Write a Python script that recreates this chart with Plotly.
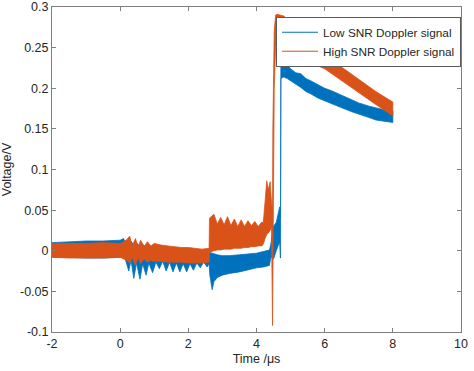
import plotly.graph_objects as go

# ---- data (envelopes of the noisy signals) ----
low_x = [-2.0, -1.5, -1.0, -0.5, 0.0, 0.1, 0.15, 0.25, 0.32, 0.40, 0.48, 0.58, 0.66, 0.76, 0.84,
         0.95, 1.05, 1.15, 1.25, 1.35, 1.45, 1.55, 1.65, 1.75, 1.85, 1.95, 2.05, 2.15, 2.25, 2.35,
         2.45, 2.55, 2.61, 2.63, 2.70, 2.75, 2.85, 3.0, 3.2, 3.5, 3.8, 4.0, 4.2, 4.38, 4.42, 4.5,
         4.58, 4.65, 4.68, 4.70, 4.705, 4.715, 4.8, 4.9, 5.0, 5.15, 5.3, 5.45, 5.6, 5.8, 6.0, 6.2,
         6.5, 6.8, 7.0, 7.3, 7.5, 7.8, 8.0]
low_top = [0.010, 0.011, 0.012, 0.012, 0.013, 0.015, 0.010, 0.008, 0.012, 0.006, 0.010, 0.005, 0.008,
           0.004, 0.006, 0.003, 0.004, 0.002, 0.003, 0.001, 0.002, 0.000, 0.001, 0.000, 0.000, -0.001,
           -0.001, -0.002, -0.002, -0.003, -0.003, -0.004, -0.004, -0.002, -0.003, -0.004, -0.005,
           -0.006, -0.006, -0.005, -0.004, -0.003, -0.001, 0.001, 0.008, 0.030, 0.035, 0.050, 0.054,
           0.040, 0.050, 0.234, 0.232, 0.229, 0.224, 0.219, 0.218, 0.212, 0.209, 0.204, 0.200, 0.197,
           0.191, 0.185, 0.182, 0.178, 0.176, 0.173, 0.172]
low_bot = [-0.008, -0.008, -0.009, -0.009, -0.008, -0.006, -0.010, -0.025, -0.012, -0.034, -0.015,
           -0.035, -0.016, -0.030, -0.015, -0.027, -0.014, -0.022, -0.013, -0.025, -0.014, -0.026,
           -0.015, -0.026, -0.016, -0.026, -0.016, -0.024, -0.015, -0.021, -0.014, -0.020, -0.016,
           -0.030, -0.048, -0.038, -0.033, -0.030, -0.028, -0.026, -0.023, -0.021, -0.020, -0.018,
           -0.008, -0.010, 0.000, 0.008, 0.010, -0.009, -0.009, 0.212, 0.214, 0.212, 0.210, 0.205,
           0.201, 0.196, 0.193, 0.188, 0.185, 0.181, 0.176, 0.171, 0.168, 0.164, 0.161, 0.159, 0.158]

high_x = [-2.0, -1.5, -1.0, -0.5, 0.0, 0.1, 0.2, 0.28, 0.35, 0.45, 0.52, 0.60, 0.70, 0.80, 0.90,
          1.0, 1.2, 1.4, 1.6, 1.8, 2.0, 2.2, 2.4, 2.61, 2.62, 2.75, 2.85, 2.95, 3.05, 3.15, 3.25,
          3.35, 3.45, 3.55, 3.65, 3.75, 3.85, 3.95, 4.05, 4.15, 4.2, 4.25, 4.30, 4.35, 4.40, 4.44,
          4.46, 4.47, 4.48, 4.52, 4.56, 4.6, 4.8, 5.0, 5.4, 5.77, 6.0, 6.5, 7.0, 7.5, 8.0]
high_top = [0.009, 0.009, 0.009, 0.010, 0.009, 0.011, 0.014, 0.018, 0.006, 0.015, 0.004, 0.013,
            0.005, 0.011, 0.006, 0.009, 0.007, 0.006, 0.005, 0.004, 0.004, 0.003, 0.002, 0.003,
            0.040, 0.045, 0.033, 0.041, 0.032, 0.042, 0.031, 0.039, 0.030, 0.038, 0.030, 0.037,
            0.031, 0.036, 0.030, 0.035, 0.035, 0.060, 0.086, 0.075, 0.085, 0.060, 0.050, 0.050,
            0.150, 0.270, 0.290, 0.291, 0.289, 0.280, 0.268, 0.247, 0.241, 0.226, 0.211, 0.196, 0.183]
high_bot = [-0.008, -0.009, -0.009, -0.009, -0.008, -0.010, -0.012, -0.015, -0.008, -0.018, -0.008,
            -0.016, -0.010, -0.014, -0.012, -0.013, -0.013, -0.014, -0.014, -0.014, -0.015, -0.015,
            -0.015, -0.014, -0.002, 0.000, 0.001, 0.001, 0.002, 0.002, 0.002, 0.003, 0.003, 0.003,
            0.004, 0.004, 0.005, 0.005, 0.006, 0.006, 0.008, 0.015, 0.020, 0.022, 0.025, 0.030,
            -0.050, -0.092, 0.030, 0.200, 0.250, 0.262, 0.266, 0.261, 0.250, 0.228, 0.224, 0.209,
            0.195, 0.180, 0.166]

series_names = ["Low SNR Doppler signal", "High SNR Doppler signal"]
x_ticks = [-2, 0, 2, 4, 6, 8, 10]
x_tick_labels = ["-2", "0", "2", "4", "6", "8", "10"]
y_ticks = [-0.1, -0.05, 0, 0.05, 0.1, 0.15, 0.2, 0.25, 0.3]
y_tick_labels = ["-0.1", "-0.05", "0", "0.05", "0.1", "0.15", "0.2", "0.25", "0.3"]

BLUE = "#0072BD"
ORANGE = "#D95319"
FONT = "Liberation Sans, Arial, sans-serif"
TXT = "#262626"
AX = "#808080"

fig = go.Figure()


def band(xs, top, bot, color):
    return go.Scatter(
        x=list(xs) + list(xs)[::-1],
        y=list(top) + list(bot)[::-1],
        mode="lines",
        fill="toself",
        fillcolor=color,
        line=dict(color=color, width=0.8),
        showlegend=False,
        hoverinfo="skip",
    )


fig.add_trace(band(low_x, low_top, low_bot, BLUE))
fig.add_trace(band(high_x, high_top, high_bot, ORANGE))

# legend entries (line samples)
for name, col in zip(series_names, [BLUE, ORANGE]):
    fig.add_trace(go.Scatter(x=[None], y=[None], mode="lines", name=name,
                             line=dict(color=col, width=1.2)))

axis_common = dict(
    showline=True, mirror="ticks", linecolor=AX, linewidth=1,
    ticks="inside", ticklen=4, tickcolor=AX,
    showgrid=False, zeroline=False,
    tickfont=dict(family=FONT, size=12.5, color=TXT),
)

fig.update_layout(
    width=474, height=371,
    margin=dict(l=52, r=8, t=6, b=39),
    paper_bgcolor="white", plot_bgcolor="white",
    font=dict(family=FONT, size=12.5, color=TXT),
    xaxis=dict(range=[-2, 10], tickvals=x_ticks, ticktext=x_tick_labels,
               title=dict(text="Time /μs", font=dict(family=FONT, size=12.5, color=TXT),
                          standoff=4),
               **axis_common),
    yaxis=dict(range=[-0.1, 0.3], tickvals=y_ticks, ticktext=y_tick_labels,
               automargin=False,
               title=dict(text="Voltage/V", font=dict(family=FONT, size=12.5, color=TXT),
                          standoff=6),
               **axis_common),
    legend=dict(x=1, y=0.97, xanchor="right", yanchor="top",
                bgcolor="white", bordercolor="#5a5a5a", borderwidth=1,
                font=dict(family=FONT, size=11.8, color=TXT),
                tracegroupgap=0, itemwidth=36),
    showlegend=True,
)

fig.write_html("out.html")
